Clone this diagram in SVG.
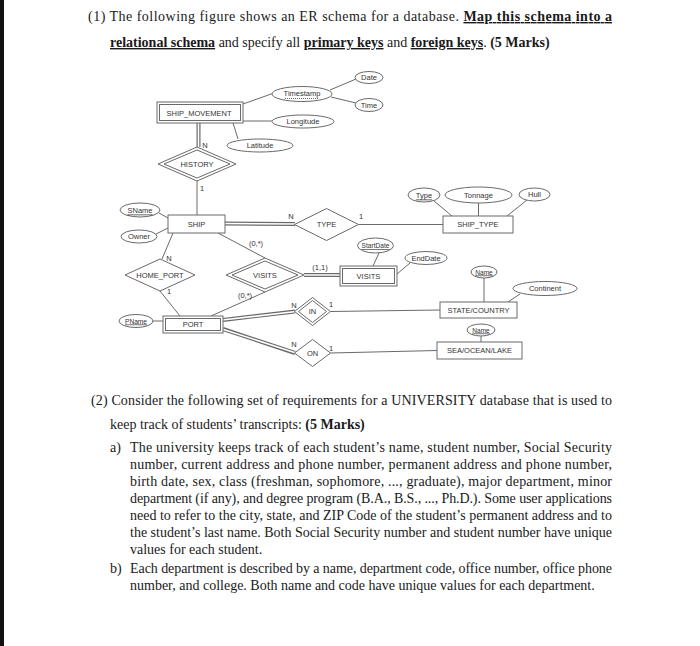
<svg xmlns="http://www.w3.org/2000/svg" width="700" height="646" viewBox="0 0 700 646">
<style>
.body{font-family:"Liberation Serif","Times New Roman",serif;font-size:14px;fill:#1a1a1a}
.b{font-weight:bold}
.ul{text-decoration:underline}
.ln{stroke:#6a6a6a;stroke-width:1;fill:none}
.dblo{stroke:#6a6a6a;stroke-width:4;fill:none}
.dbli{stroke:#fff;stroke-width:1.6;fill:none}
.sh{fill:#fff;stroke:#6a6a6a;stroke-width:1}
.lbl{font-family:"Liberation Sans",Arial,sans-serif;font-size:7.5px;fill:#333;text-anchor:middle;dominant-baseline:central}
.sm{font-size:6.6px}
.card{font-family:"Liberation Sans",Arial,sans-serif;font-size:7.5px;fill:#333;text-anchor:middle}
</style>
<rect x="0" y="0" width="700" height="646" fill="#fff"/>
<rect x="0" y="0" width="4" height="646" fill="#111"/>

<g id="question1" class="body">
<text x="88" y="21" textLength="524" lengthAdjust="spacing">(1) The following figure shows an ER schema for a database. <tspan class="b ul">Map this schema into a</tspan></text>
<text x="110" y="47"><tspan class="b ul">relational schema</tspan> and specify all <tspan class="b ul">primary keys</tspan> and <tspan class="b ul">foreign keys</tspan>. <tspan class="b">(5 Marks)</tspan></text>
</g>

<g id="connectors">
<path class="ln" d="M243,104 L274,93 M330,90 L356,79 M331,97 L356,103 M243,121 L272,121 M233,123 L238,139"/>
<path class="ln" d="M197,181 L197,215 M159,213 L168,218 M156,234 L168,228"/>
<path class="ln" d="M358.5,224.5 L443,224.5 M434,201 L452,216 M478.5,203 L478.5,216 M527,200 L507,216"/>
<path class="ln" d="M173,233 L162,259 M160,291 L180,316 M218,233 L265,258 M265,292 L211,316"/>
<path class="ln" d="M379,253 L373,266 M410,263 L397,274 M153,321 L163,321"/>
<path class="ln" d="M330.5,311.5 L440,310 M330.5,353 L437,350.5 M484,278 L484,302 M520,294 L508,302 M481,336 L481,342"/>
<path class="dblo" d="M198.5,123 L198.5,147 M225,223.5 L295,224 M304,275 L340,275 M223,320 L295,311.5 M223,329 L295,353"/>
<path class="dbli" d="M198.5,122 L198.5,148 M224,223.5 L296,224 M303,275 L341,275 M222,320 L296,311.5 M222,329 L296,353"/>
</g>

<g id="cardinalities" class="card">
<text x="205" y="148">N</text>
<text x="202" y="191">1</text>
<text x="291" y="219">N</text>
<text x="361" y="219">1</text>
<text x="169" y="261">N</text>
<text x="169" y="294">1</text>
<text x="256" y="246">(0,*)</text>
<text x="245" y="298">(0,*)</text>
<text x="320" y="270">(1,1)</text>
<text x="294" y="308">N</text>
<text x="331" y="307">1</text>
<text x="294" y="347">N</text>
<text x="331" y="351">1</text>
</g>

<g id="ship_movement">
<rect class="sh" x="157" y="102" width="86" height="21"/>
<rect class="sh" x="159.5" y="104.5" width="81" height="16"/>
<text class="lbl" x="199" y="113">SHIP_MOVEMENT</text>
</g>
<g id="timestamp">
<ellipse class="sh" cx="302" cy="94" rx="30" ry="7.5"/>
<text class="lbl" x="302" y="93.5">Timestamp</text>
<line x1="285" y1="98.5" x2="319" y2="98.5" stroke="#444" stroke-width="0.8" stroke-dasharray="1,1"/>
</g>
<g id="date">
<ellipse class="sh" cx="369" cy="77.5" rx="14" ry="6"/>
<text class="lbl" x="369" y="77.5">Date</text>
</g>
<g id="time">
<ellipse class="sh" cx="369" cy="105" rx="14" ry="6.5"/>
<text class="lbl" x="369" y="105">Time</text>
</g>
<g id="longitude">
<ellipse class="sh" cx="303" cy="121.5" rx="31" ry="6.5"/>
<text class="lbl" x="303" y="121.5">Longitude</text>
</g>
<g id="latitude">
<ellipse class="sh" cx="260" cy="145.5" rx="33" ry="6.5"/>
<text class="lbl" x="260" y="145.5">Latitude</text>
</g>
<g id="history">
<polygon class="sh" points="158,164 197,147 236,164 197,181"/>
<polygon class="sh" points="164,164 197,150 230,164 197,178"/>
<text class="lbl" x="197" y="164">HISTORY</text>
</g>
<g id="ship">
<rect class="sh" x="168" y="215" width="57" height="18"/>
<text class="lbl" x="196.5" y="224">SHIP</text>
</g>
<g id="sname">
<ellipse class="sh" cx="140" cy="210" rx="20" ry="7"/>
<text class="lbl ul" x="140" y="210">SName</text>
</g>
<g id="owner">
<ellipse class="sh" cx="139" cy="236.5" rx="18" ry="6.5"/>
<text class="lbl" x="139" y="236.5">Owner</text>
</g>
<g id="type_rel">
<polygon class="sh" points="294.5,224.5 326.5,208.5 358.5,224.5 326.5,240.5"/>
<text class="lbl" x="326.5" y="224.5">TYPE</text>
</g>
<g id="ship_type">
<rect class="sh" x="443" y="216" width="70" height="17"/>
<text class="lbl" x="478" y="224.5">SHIP_TYPE</text>
</g>
<g id="type_attr">
<ellipse class="sh" cx="424" cy="195" rx="16" ry="7"/>
<text class="lbl ul" x="424" y="195">Type</text>
</g>
<g id="tonnage">
<ellipse class="sh" cx="478.5" cy="195" rx="33.5" ry="8"/>
<text class="lbl" x="478.5" y="195">Tonnage</text>
</g>
<g id="hull">
<ellipse class="sh" cx="534.5" cy="194.5" rx="15.5" ry="6.5"/>
<text class="lbl" x="534.5" y="194.5">Hull</text>
</g>
<g id="home_port">
<polygon class="sh" points="125,275 160,259 195,275 160,291"/>
<text class="lbl" x="160" y="275">HOME_PORT</text>
</g>
<g id="visits_rel">
<polygon class="sh" points="226,275 265,258 304,275 265,292"/>
<polygon class="sh" points="232,275 265,261 298,275 265,289"/>
<text class="lbl" x="265" y="275">VISITS</text>
</g>
<g id="visits_entity">
<rect class="sh" x="340" y="266" width="57" height="20"/>
<rect class="sh" x="342.5" y="268.5" width="52" height="15"/>
<text class="lbl" x="368.5" y="276">VISITS</text>
</g>
<g id="startdate">
<ellipse class="sh" cx="375.5" cy="245.5" rx="18" ry="7.5"/>
<text class="lbl ul sm" x="375.5" y="245.5">StartDate</text>
</g>
<g id="enddate">
<ellipse class="sh" cx="426" cy="258" rx="21" ry="6.5"/>
<text class="lbl" x="426" y="258">EndDate</text>
</g>
<g id="port">
<rect class="sh" x="163" y="316" width="60" height="17"/>
<rect class="sh" x="165.5" y="318.5" width="55" height="12"/>
<text class="lbl" x="193" y="324.5">PORT</text>
</g>
<g id="pname">
<ellipse class="sh" cx="136" cy="321" rx="17" ry="6.5"/>
<text class="lbl ul sm" x="136" y="321">PName</text>
</g>
<g id="in_rel">
<polygon class="sh" points="294.5,311.5 312.5,297.5 330.5,311.5 312.5,325.5"/>
<polygon class="sh" points="298.5,311.5 312.5,300.5 326.5,311.5 312.5,322.5"/>
<text class="lbl" x="312.5" y="311.5">IN</text>
</g>
<g id="on_rel">
<polygon class="sh" points="294.5,353 312.5,339.5 330.5,353 312.5,366.5"/>
<text class="lbl" x="312.5" y="353">ON</text>
</g>
<g id="state_country">
<rect class="sh" x="440" y="302" width="77" height="16"/>
<text class="lbl" x="478.5" y="310">STATE/COUNTRY</text>
</g>
<g id="name1">
<ellipse class="sh" cx="484" cy="272" rx="13" ry="6"/>
<text class="lbl ul sm" x="484" y="272">Name</text>
</g>
<g id="continent">
<ellipse class="sh" cx="545" cy="288.5" rx="32" ry="7"/>
<text class="lbl" x="545" y="288.5">Continent</text>
</g>
<g id="name2">
<ellipse class="sh" cx="481" cy="330" rx="14" ry="6"/>
<text class="lbl ul sm" x="481" y="330">Name</text>
</g>
<g id="sea_ocean_lake">
<rect class="sh" x="437" y="342" width="85" height="17"/>
<text class="lbl" x="479.5" y="350.5">SEA/OCEAN/LAKE</text>
</g>

<g id="question2" class="body">
<text x="91" y="405" textLength="521" lengthAdjust="spacing">(2) Consider the following set of requirements for a UNIVERSITY database that is used to</text>
<text x="110" y="429">keep track of students’ transcripts: <tspan class="b">(5 Marks)</tspan></text>
<text x="110" y="452">a)</text>
<text x="130" y="452" textLength="482" lengthAdjust="spacing">The university keeps track of each student’s name, student number, Social Security</text>
<text x="130" y="469" textLength="482" lengthAdjust="spacing">number, current address and phone number, permanent address and phone number,</text>
<text x="130" y="486" textLength="482" lengthAdjust="spacing">birth date, sex, class (freshman, sophomore, ..., graduate), major department, minor</text>
<text x="130" y="503" textLength="482" lengthAdjust="spacing">department (if any), and degree program (B.A., B.S., ..., Ph.D.). Some user applications</text>
<text x="130" y="520" textLength="482" lengthAdjust="spacing">need to refer to the city, state, and ZIP Code of the student’s permanent address and to</text>
<text x="130" y="537" textLength="482" lengthAdjust="spacing">the student’s last name. Both Social Security number and student number have unique</text>
<text x="130" y="554">values for each student.</text>
<text x="110" y="573">b)</text>
<text x="130" y="573" textLength="482" lengthAdjust="spacing">Each department is described by a name, department code, office number, office phone</text>
<text x="130" y="590">number, and college. Both name and code have unique values for each department.</text>
</g>
</svg>
